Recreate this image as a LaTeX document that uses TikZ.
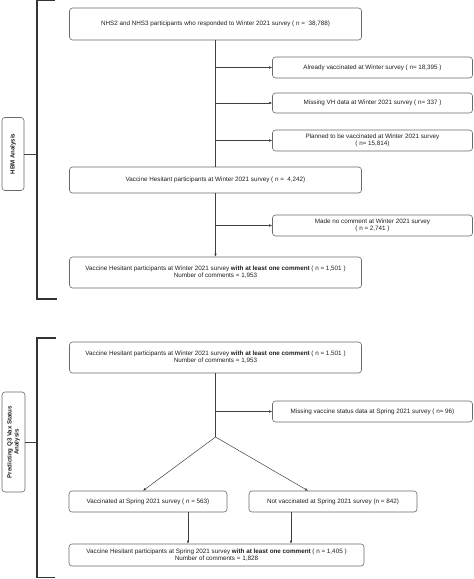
\documentclass[tikz,border=0pt]{standalone}
\usepackage{fontspec}
\setmainfont{Liberation Sans}
\usetikzlibrary{arrows.meta}
\definecolor{boxline}{HTML}{6A6A6A}
\definecolor{txt}{HTML}{1E1E1E}
\begin{document}
\begin{tikzpicture}[x=1pt,y=-1pt,
  box/.style={draw=boxline,line width=0.6pt,rounded corners=3pt,align=center,
    inner sep=1pt,text=txt,font=\fontsize{6.3}{7.2}\selectfont},
  mainbox/.style={box,minimum width=292pt},
  sidebox/.style={box,minimum width=200pt},
  lab/.style={box,rotate=90,font=\bfseries\fontsize{6.1}{7}\selectfont},
  conn/.style={draw=black!75,line width=0.5pt},
  arr/.style={conn,-{Latex[length=3pt,width=2.6pt]}},
  bracket/.style={draw=black!80,line width=1.2pt}]
\useasboundingbox (0,0) rectangle (474,579);
% left labels
\node[lab,minimum width=73pt,minimum height=22pt] (hbm) at (13,154) {HBM Analysis};
\node[lab,minimum width=100pt,minimum height=23pt] (pred) at (13.5,442) {Predicting Q3 Vax Status\\Analysis};
% brackets
\coordinate (b1t) at (55,0.8);
\coordinate (b1b) at (57,299);
\coordinate (b2t) at (56,338);
\coordinate (b2b) at (55,577.5);
\draw[bracket] (b1t) -- (37,0.8) -- (37,299) -- (b1b);
\draw[bracket] (b2t) -- (37,338) -- (37,577.5) -- (b2b);
\draw[conn] (hbm.south) -- (hbm.south -| 37,0);
\draw[conn] (pred.south) -- (pred.south -| 37,0);
% HBM part
\node[mainbox,minimum height=32pt] (A) at (215.5,24) {NHS2 and NHS3 participants who responded to Winter 2021 survey ( n =\ \ 38,788)};
\node[sidebox,minimum height=21pt] (s1) at (372.5,67.5) {Already vaccinated at Winter survey ( n= 18,395 )};
\node[sidebox,minimum height=20pt] (s2) at (372.5,103) {Missing VH data at Winter 2021 survey ( n= 337 )};
\node[sidebox,minimum height=21pt] (s3) at (372.5,140.5) {Planned to be vaccinated at Winter 2021 survey\\( n= 15,814)};
\node[mainbox,minimum height=26pt] (B) at (215.5,180) {Vaccine Hesitant participants at Winter 2021 survey ( n =\ \ 4,242)};
\node[sidebox,minimum height=21pt] (s4) at (372.5,225.5) {Made no comment at Winter 2021 survey\\( n = 2,741 )};
\node[mainbox,minimum height=31pt] (C) at (215.5,272.5) {Vaccine Hesitant participants at Winter 2021 survey \textbf{with at least one comment} ( n = 1,501 )\\Number of comments = 1,953};
\draw[conn] (A.south) -- (B.north);
\draw[arr] (B.south) -- (C.north);
\foreach \s in {s1,s2,s3}{\draw[arr] (A.south |- \s.west) -- (\s.west);}
\draw[arr] (B.south |- s4.west) -- (s4.west);
% Prediction part
\node[mainbox,minimum height=31pt] (D) at (215.5,357.5) {Vaccine Hesitant participants at Winter 2021 survey \textbf{with at least one comment} ( n = 1,501 )\\Number of comments = 1,953};
\node[sidebox,minimum height=21pt] (s5) at (372.5,411.5) {Missing vaccine status data at Spring 2021 survey ( n= 96)};
\coordinate (J) at (215.5,437);
\node[box,minimum width=158pt,minimum height=21pt] (E) at (148,501.5) {Vaccinated at Spring 2021 survey ( n = 563)};
\node[box,minimum width=168pt,minimum height=21pt] (F) at (333,501.5) {Not vaccinated at Spring 2021 survey (n = 842)};
\node[box,minimum width=295pt,minimum height=22pt] (G) at (216.5,555) {Vaccine Hesitant participants at Spring 2021 survey \textbf{with at least one comment} ( n = 1,405 )\\Number of comments = 1,828};
\draw[conn] (D.south) -- (J);
\draw[arr] (D.south |- s5.west) -- (s5.west);
\draw[arr] (J) -- ([xshift=-5pt]E.north);
\draw[arr] (J) -- ([xshift=-25pt]F.north);
\draw[arr] ([xshift=40pt]E.south) -- ([xshift=40pt]E.south |- G.north);
\draw[arr] ([xshift=-42pt]F.south) -- ([xshift=-42pt]F.south |- G.north);
\end{tikzpicture}
\end{document}
